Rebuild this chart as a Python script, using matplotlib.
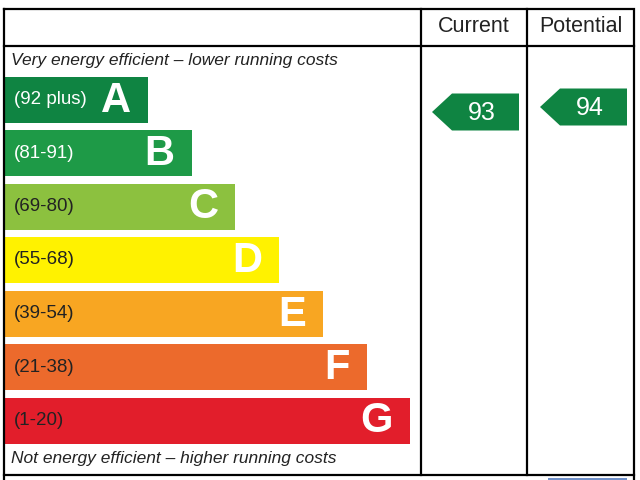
import matplotlib.pyplot as plt
from matplotlib.patches import Polygon, Rectangle

plt.rcParams['font.family'] = ['Liberation Sans', 'DejaVu Sans']

# EPC bands, top (most efficient) to bottom
bands = ['A', 'B', 'C', 'D', 'E', 'F', 'G']
ranges = ['(92 plus)', '(81-91)', '(69-80)', '(55-68)', '(39-54)', '(21-38)', '(1-20)']
band_colors = ['#0f8442', '#1e9a47', '#8cc13f', '#fff200', '#f8a622', '#ec6a2c', '#e21e2b']
range_text_colors = ['white', 'white', '#222222', '#222222', '#222222', '#222222', '#222222']

columns = ['Current', 'Potential']
ratings = [93, 94]

top_note = 'Very energy efficient \u2013 lower running costs'
bottom_note = 'Not energy efficient \u2013 higher running costs'

arrow_color = '#0f8442'


def draw_frame(ax):
    lw = 1.6
    left, right, top, bottom = 4, 634, 9, 475
    col1, col2 = 421, 527
    ax.plot([left, right, right, left, left], [top, top, bottom, bottom, top],
            color='black', lw=lw, solid_joinstyle='miter')
    ax.plot([left, left], [bottom, 480], color='black', lw=lw)
    ax.plot([right, right], [bottom, 480], color='black', lw=lw)
    ax.plot([col1, col1], [top, bottom], color='black', lw=lw)
    ax.plot([col2, col2], [top, bottom], color='black', lw=lw)
    ax.plot([left, right], [46, 46], color='black', lw=lw)
    # edge of the next panel peeking in at the bottom
    ax.add_patch(Rectangle((548, 478), 79, 4, color='#7090c8', lw=0))
    ax.text((col1 + col2) / 2, 27, columns[0], ha='center', va='center', fontsize=15.5, color='#222222')
    ax.text((col2 + right) / 2, 27, columns[1], ha='center', va='center', fontsize=15.5, color='#222222')


def draw_bands(ax):
    centers = [99.5 + 53.5 * i for i in range(len(bands))]
    lengths = [143 + 43.7 * i for i in range(len(bands))]
    ax.barh(centers, lengths, left=5, height=46, color=band_colors, linewidth=0)
    for c, w, band, rng, tc in zip(centers, lengths, bands, ranges, range_text_colors):
        ax.text(14, c, rng, ha='left', va='center', fontsize=13.5, color=tc)
        ax.text(5 + w - 17, c + 1, band, ha='right', va='center', fontsize=30,
                fontweight='bold', color='white')
    ax.text(11, 60, top_note, ha='left', va='center', fontsize=12.5, style='italic', color='#222222')
    ax.text(11, 459, bottom_note, ha='left', va='center', fontsize=12.5, style='italic', color='#222222')


def draw_arrow(ax, x_tip, rating):
    yc = 577 - 5 * rating
    h = 37
    poly = Polygon([[x_tip, yc], [x_tip + 20, yc - h / 2], [x_tip + 87, yc - h / 2],
                    [x_tip + 87, yc + h / 2], [x_tip + 20, yc + h / 2]],
                   closed=True, color=arrow_color, lw=0)
    ax.add_patch(poly)
    ax.text(x_tip + 50, yc + 1, str(rating), ha='center', va='center', fontsize=18, color='white')


fig = plt.figure(figsize=(6.4, 4.8), dpi=100)
ax = fig.add_axes([0, 0, 1, 1])
ax.set_xlim(0, 640)
ax.set_ylim(480, 0)
ax.axis('off')

draw_bands(ax)
draw_arrow(ax, 432, ratings[0])
draw_arrow(ax, 540, ratings[1])
draw_frame(ax)

fig.savefig('out.png', dpi=100)
